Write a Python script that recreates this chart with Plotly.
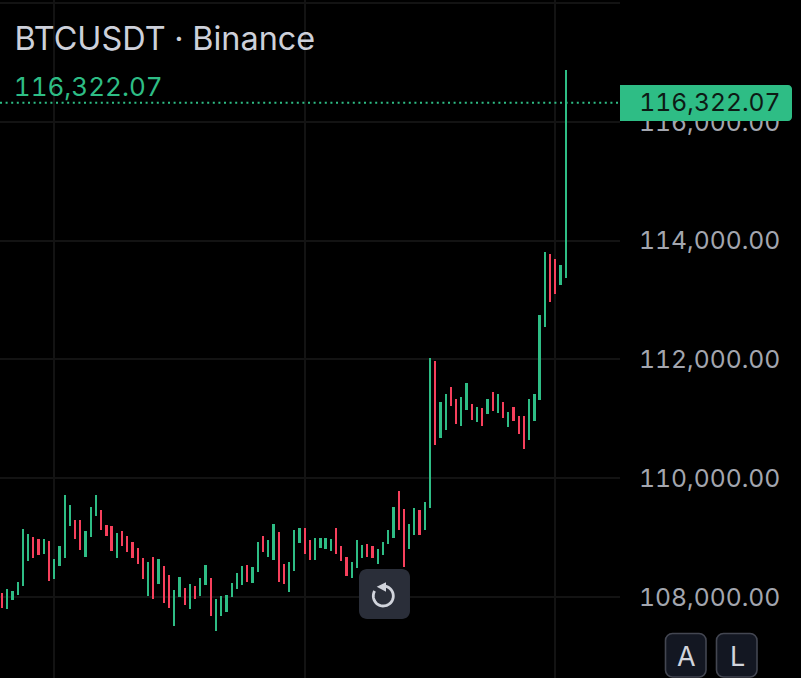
import math

import plotly.graph_objects as go

WIDTH = 801
HEIGHT = 678

GREEN = "#2ebd85"
RED = "#f7405c"
GRID = "#131313"
TEXT = "#d1d4dc"
AXIS_TEXT = "#a3a6af"
FONT = "Inter, sans-serif"

title_text = "BTCUSDT · Binance"
last_price = 116322.07
last_price_text = "116,322.07"
y_ticks = [108000, 110000, 112000, 114000, 116000, 118000]
x_grid_bars = [10, 58, 106]

highs = [
    108073, 108130, 108101, 108247, 109140, 109061, 109011, 108977, 108977, 108943,
    108646, 108859, 109718, 109544, 109297, 109297, 109112, 109516, 109718, 109465,
    109213, 109196, 109073, 109106, 109028, 108921, 108820, 108657, 108584, 108680,
    108635, 108517, 108365, 108118, 108332, 108158, 108225, 108186, 108320, 108534,
    108320, 107961, 108012, 108034, 108242, 108405, 108517, 108534, 108500, 108921,
    109028, 108966, 109224, 109089, 108551, 108584, 109123, 109162, 109168, 108955,
    108988, 108988, 108988, 108971, 109157, 108859, 108674, 108584, 108955, 108870,
    108893, 108859, 108803, 108921, 109129, 109510, 109785, 109482, 109230, 109493,
    109465, 109594, 112019, 111969, 111290, 111419, 111542, 111335, 111374, 111598,
    111245, 111205, 111183, 111329, 111447, 111413, 111278, 111110, 111194, 111043,
    111048, 111335, 111419, 112749, 113810, 113776, 113692, 113591, 116875,
]
lows = [
    107815, 107804, 107950, 108040, 108186, 108612, 108663, 108713, 108719, 108275,
    108304, 108528, 108663, 109202, 108971, 108797, 108674, 109016, 109364, 109129,
    109033, 108769, 108652, 108865, 108758, 108663, 108562, 108304, 108017, 107972,
    108225, 107899, 107821, 107518, 108006, 107866, 107804, 107972, 108017, 108197,
    107686, 107433, 107686, 107742, 107995, 108141, 108208, 108259, 108231, 108427,
    108764, 108680, 108629, 108247, 108225, 108090, 108438, 108915, 108730, 108629,
    108629, 108820, 108814, 108781, 108725, 108601, 108354, 108326, 108483, 108663,
    108674, 108652, 108556, 108713, 108899, 108999, 109129, 108510, 108814, 109044,
    109044, 109134, 109493, 110554, 110672, 110818, 111222, 110913, 110880, 111155,
    110986, 110947, 110885, 111082, 111138, 111104, 111020, 110863, 110958, 110745,
    110498, 110639, 110964, 111317, 112547, 112973, 113097, 113259, 113377,
]
sides = (
    "d u u u u u d d u d u u u u d d u u u d d d u d d d d d u d u d d u u d u d u u d u "
    "u u u u u d u u d u u d d u u u d d u u u u d d d u u u d d u u u u d d u u d u "
    "u d u u d d u u d u d u d u d u d d d u u u u d d u u"
).split()

bar_index = list(range(len(highs)))
bar_size = [h - l for h, l in zip(highs, lows)]
bar_colors = [GREEN if s == "u" else RED for s in sides]


def px(x):
    return x / WIDTH


def py(y):
    return 1 - y / HEIGHT


def round_rect(x0, y0, x1, y1, r):
    # rounded rectangle given in page pixels, returned in paper coordinates
    k = r * 0.45
    pts = [
        ("M", x0 + r, y0), ("L", x1 - r, y0),
        ("C", x1 - k, y0, x1, y0 + k, x1, y0 + r), ("L", x1, y1 - r),
        ("C", x1, y1 - k, x1 - k, y1, x1 - r, y1), ("L", x0 + r, y1),
        ("C", x0 + k, y1, x0, y1 - k, x0, y1 - r), ("L", x0, y0 + r),
        ("C", x0, y0 + k, x0 + k, y0, x0 + r, y0),
    ]
    parts = []
    for p in pts:
        vals = p[1:]
        coords = [f"{px(vals[i]):.5f},{py(vals[i + 1]):.5f}" for i in range(0, len(vals), 2)]
        parts.append(p[0] + " ".join(coords))
    return " ".join(parts) + " Z"


def tag_path(x0, y0, x1, y1, r):
    # only the right hand corners of the price tag are rounded
    k = r * 0.45
    return (
        f"M{px(x0):.5f},{py(y0):.5f} L{px(x1 - r):.5f},{py(y0):.5f} "
        f"C{px(x1 - k):.5f},{py(y0):.5f} {px(x1):.5f},{py(y0 + k):.5f} {px(x1):.5f},{py(y0 + r):.5f} "
        f"L{px(x1):.5f},{py(y1 - r):.5f} "
        f"C{px(x1):.5f},{py(y1 - k):.5f} {px(x1 - k):.5f},{py(y1):.5f} {px(x1 - r):.5f},{py(y1):.5f} "
        f"L{px(x0):.5f},{py(y1):.5f} Z"
    )


def arc_path(cx, cy, r, start_deg, end_deg):
    # clockwise arc, angles measured from straight up
    parts = []
    for step in range(41):
        a = math.radians(start_deg + (end_deg - start_deg) * step / 40)
        x = cx + r * math.sin(a)
        y = cy - r * math.cos(a)
        parts.append(("M" if step == 0 else "L") + f"{px(x):.5f},{py(y):.5f}")
    return " ".join(parts)


fig = go.Figure()

# ------------------------------------------------------
# Price bars
# ------------------------------------------------------
# just over 2px wide: anything thinner gets snapped outwards to whole pixels
fig.add_trace(
    go.Bar(
        x=bar_index,
        y=bar_size,
        base=lows,
        width=0.43,
        marker=dict(color=bar_colors, line=dict(width=0)),
        hoverinfo="skip",
        showlegend=False,
    )
)

# ------------------------------------------------------
# Last price line, tag and the small chart buttons
# ------------------------------------------------------
shapes = [
    dict(
        type="line", xref="x domain", yref="y", x0=0, x1=1,
        y0=last_price, y1=last_price,
        line=dict(color=GREEN, width=2, dash="2px,3.6px"),
        layer="above",
    ),
    dict(
        type="path", xref="paper", yref="paper", path=tag_path(620, 85, 792, 121, 4),
        fillcolor=GREEN, line=dict(width=0), layer="above",
    ),
    # replay button
    dict(
        type="path", xref="paper", yref="paper", path=round_rect(359, 569, 410, 619, 8),
        fillcolor="#2a2e39", line=dict(width=0), layer="above",
    ),
    dict(
        type="path", xref="paper", yref="paper", path=arc_path(383.3, 596, 10, 5, 300),
        line=dict(color=TEXT, width=2.8), layer="above",
    ),
    dict(
        type="path", xref="paper", yref="paper",
        path=(
            f"M{px(376.7):.5f},{py(586.7):.5f} L{px(386):.5f},{py(582.3):.5f} "
            f"L{px(386):.5f},{py(591.7):.5f} Z"
        ),
        fillcolor=TEXT, line=dict(width=0), layer="above",
    ),
    # A and L buttons
    dict(
        type="path", xref="paper", yref="paper", path=round_rect(665.5, 633.5, 706, 677, 7),
        fillcolor="#131722", line=dict(color="#434651", width=1.6), layer="above",
    ),
    dict(
        type="path", xref="paper", yref="paper", path=round_rect(716.5, 633.5, 757, 677, 7),
        fillcolor="#131722", line=dict(color="#434651", width=1.6), layer="above",
    ),
]


def label(text, x, y, size, color):
    return dict(
        text=text, xref="paper", yref="paper", x=px(x), y=py(y),
        xanchor="left", yanchor="middle", showarrow=False,
        font=dict(family=FONT, size=size, color=color),
    )


annotations = [
    label(title_text, 12, 39, 32.4, "#cdd0da"),
    label(last_price_text, 22, 86, 26, GREEN),
    label(last_price_text, 647, 102, 24.7, "#0d1a15"),
    label("A", 675, 656, 27, TEXT),
    label("L", 728, 656, 27, TEXT),
]

# ------------------------------------------------------
# Layout
# ------------------------------------------------------
fig.update_layout(
    width=WIDTH,
    height=HEIGHT,
    margin=dict(l=0, r=0, t=0, b=0),
    paper_bgcolor="#000000",
    plot_bgcolor="#000000",
    bargap=0,
    hovermode=False,
    shapes=shapes,
    annotations=annotations,
    xaxis=dict(
        domain=[0, 620 / WIDTH],
        range=[-0.38, 118.4],
        tickvals=x_grid_bars,
        showticklabels=False,
        ticks="",
        showgrid=True,
        gridcolor=GRID,
        gridwidth=1.5,
        zeroline=False,
        showline=False,
    ),
    yaxis=dict(
        side="right",
        range=[106636, 118054],
        tickvals=y_ticks,
        tickformat=",.2f",
        ticks="",
        ticklabelstandoff=18,
        tickfont=dict(family=FONT, size=24.7, color=AXIS_TEXT),
        showgrid=True,
        gridcolor=GRID,
        gridwidth=1.5,
        zeroline=False,
        showline=False,
    ),
)

# tabular digits as in the original, soft bar edges, then redraw so plotly measures the text again
post_js = """
document.body.style.margin='0';
document.body.style.background='#000';
var s=document.createElement('style');
s.textContent='svg text{font-feature-settings:"tnum" 1;font-variant-numeric:tabular-nums;}'
  +'.js-plotly-plot .plotly .bars path{shape-rendering:geometricPrecision !important;}';
document.head.appendChild(s);
Plotly.redraw('{plot_id}');
"""

fig.write_html("out.html", config={"displayModeBar": False}, post_script=post_js)
